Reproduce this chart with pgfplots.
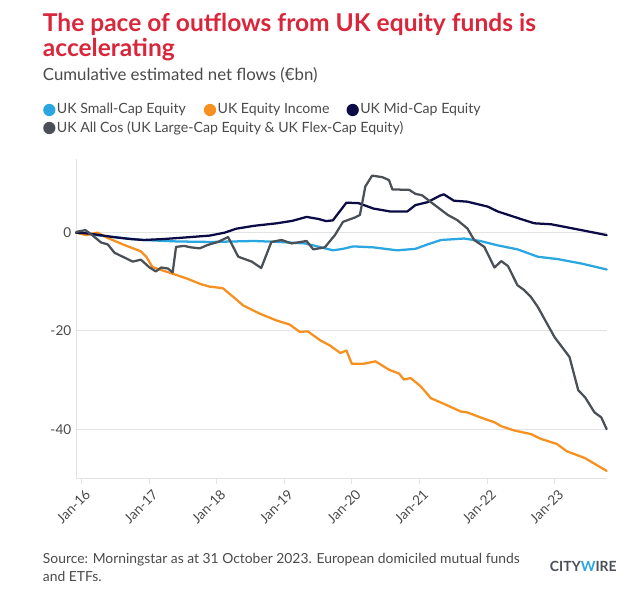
\documentclass[border=0pt]{standalone}
\usepackage{pgfplots}
\pgfplotsset{compat=1.18}
\usepackage{fontspec}
\setmainfont{Lato}
\definecolor{titlered}{HTML}{D9263B}
\definecolor{smallcap}{HTML}{2AA6E0}
\definecolor{income}{HTML}{F7901E}
\definecolor{midcap}{HTML}{0C0B45}
\definecolor{allcos}{HTML}{4B5057}
\definecolor{txtgray}{HTML}{4A4A4A}
\definecolor{gridgray}{HTML}{E3E3E3}
\definecolor{logoblue}{HTML}{2AA6E0}
\begin{document}
\begin{tikzpicture}
\useasboundingbox (0,0) rectangle (472.5pt,442.5pt);
% title
\node[anchor=base west, inner sep=0pt, text=titlered, font=\fontsize{18.4}{20}\selectfont\bfseries] at (32pt,419pt) {The pace of outflows from UK equity funds is};
\node[anchor=base west, inner sep=0pt, text=titlered, font=\fontsize{18.4}{20}\selectfont\bfseries] at (32pt,400pt) {accelerating};
\node[anchor=base west, inner sep=0pt, text=txtgray, font=\fontsize{12.6}{14}\selectfont] at (32pt,382pt) {Cumulative estimated net flows (€bn)};
% legend
\begin{scope}[font=\fontsize{10.6}{12}\selectfont, text=txtgray]
\fill[smallcap] (37pt,360pt) circle (4.6pt);
\node[anchor=west, inner sep=0pt] at (42.5pt,360pt) {UK Small-Cap Equity};
\fill[income] (157.5pt,360pt) circle (4.6pt);
\node[anchor=west, inner sep=0pt] at (163pt,360pt) {UK Equity Income};
\fill[midcap] (264.5pt,360pt) circle (4.6pt);
\node[anchor=west, inner sep=0pt] at (270pt,360pt) {UK Mid-Cap Equity};
\fill[allcos] (37pt,346.5pt) circle (4.6pt);
\node[anchor=west, inner sep=0pt] at (42.5pt,346.5pt) {UK All Cos (UK Large-Cap Equity \& UK Flex-Cap Equity)};
\end{scope}
% footer
\node[anchor=base west, inner sep=0pt, text=txtgray, font=\fontsize{10.4}{12}\selectfont] at (32pt,20pt) {Source: Morningstar as at 31 October 2023. European domiciled mutual funds};
\node[anchor=base west, inner sep=0pt, text=txtgray, font=\fontsize{10.4}{12}\selectfont] at (32pt,6.5pt) {and ETFs.};
\node[anchor=center, inner sep=0pt, text=allcos, font=\fontsize{10.5}{12}\selectfont\bfseries] at (437.5pt,18pt) {CITY\textcolor{logoblue}{W}IRE};
\begin{axis}[
  at={(57pt,83.8pt)}, anchor=south west,
  scale only axis, width=398pt, height=239.5pt,
  xmin=2015.92, xmax=2023.77,
  ymin=-50, ymax=15,
  axis line style={gridgray},
  axis x line*=bottom, axis y line*=left,
  ytick={-40,-20,0}, yticklabels={-40,-20,0},
  ymajorgrids, grid style={gridgray, line width=0.6pt},
  y tick style={draw=none},
  xtick={2016,2017,2018,2019,2020,2021,2022,2023},
  xticklabels={Jan-16,Jan-17,Jan-18,Jan-19,Jan-20,Jan-21,Jan-22,Jan-23},
  x tick style={gridgray, line width=0.6pt},
  major tick length=4pt,
  xtick align=outside,
  x tick label style={rotate=45, anchor=north east, font=\fontsize{10.2}{12}\selectfont, text=txtgray, inner sep=1pt, yshift=-3pt},
  y tick label style={font=\fontsize{10.2}{12}\selectfont, text=txtgray},
  tick label style={/pgf/number format/assume math mode=true},
  every axis plot/.append style={line width=1.7pt, line join=round, line cap=round, no markers},
  clip=false,
]
% UK Small-Cap Equity
\addplot[smallcap] coordinates {
(2015.92,0) (2016.22,-0.5) (2016.52,-1.0) (2016.92,-1.5) (2017.42,-1.8) (2017.92,-1.9)
(2018.56,-1.7) (2018.92,-1.9) (2019.31,-2.2) (2019.52,-2.9) (2019.72,-3.6) (2019.87,-3.3)
(2020.02,-2.8) (2020.32,-3.0) (2020.67,-3.6) (2020.94,-3.3) (2021.12,-2.4) (2021.32,-1.5)
(2021.66,-1.2) (2021.90,-1.7) (2022.16,-2.6) (2022.45,-3.4) (2022.75,-4.9) (2023.05,-5.4)
(2023.40,-6.3) (2023.77,-7.5)
};
% UK Equity Income
\addplot[income] coordinates {
(2015.92,0) (2016.07,-0.5) (2016.24,0.0) (2016.39,-1.1) (2016.65,-2.6) (2016.88,-3.8)
(2016.96,-4.9) (2017.05,-7.0) (2017.18,-7.6) (2017.38,-8.5) (2017.57,-9.4) (2017.77,-10.5)
(2017.90,-11.0) (2018.09,-11.3) (2018.24,-13.0) (2018.39,-14.8) (2018.64,-16.5) (2018.89,-17.9)
(2019.08,-18.7) (2019.23,-20.2) (2019.35,-20.1) (2019.53,-21.9) (2019.68,-23.0) (2019.83,-24.5)
(2019.92,-24.0) (2020.00,-26.7) (2020.17,-26.7) (2020.35,-26.2) (2020.55,-27.9) (2020.70,-28.7)
(2020.77,-29.9) (2020.87,-29.6) (2021.02,-31.3) (2021.17,-33.7) (2021.37,-34.9) (2021.61,-36.4)
(2021.71,-36.6) (2021.96,-37.9) (2022.11,-38.6) (2022.21,-39.4) (2022.41,-40.3) (2022.65,-41.0)
(2022.80,-42.0) (2023.03,-43.0) (2023.18,-44.5) (2023.45,-45.9) (2023.77,-48.5)
};
% UK Mid-Cap Equity
\addplot[midcap] coordinates {
(2015.92,0) (2016.12,-0.2) (2016.42,-0.8) (2016.72,-1.3) (2016.92,-1.5) (2017.22,-1.3)
(2017.52,-1.0) (2017.90,-0.6) (2018.12,0.0) (2018.29,0.8) (2018.56,1.4) (2018.89,1.9)
(2019.12,2.4) (2019.33,3.2) (2019.50,2.8) (2019.62,2.35) (2019.72,2.5) (2019.92,6.1)
(2020.10,6.0) (2020.32,4.9) (2020.57,4.3) (2020.82,4.3) (2020.94,5.6) (2021.12,6.2)
(2021.30,7.5) (2021.36,7.8) (2021.51,6.5) (2021.71,6.3) (2022.01,5.3) (2022.16,4.3)
(2022.55,2.55) (2022.70,1.9) (2022.95,1.7) (2023.40,0.5) (2023.77,-0.5)
};
% UK All Cos
\addplot[allcos] coordinates {
(2015.92,0) (2015.94,0.2) (2016.06,0.5) (2016.16,-0.5) (2016.29,-2.0) (2016.39,-2.4)
(2016.49,-4.1) (2016.58,-4.7) (2016.76,-5.9) (2016.88,-5.5) (2017.00,-7.0) (2017.10,-7.9)
(2017.18,-7.1) (2017.28,-7.3) (2017.35,-8.1) (2017.40,-2.9) (2017.52,-2.7) (2017.62,-3.0)
(2017.75,-3.2) (2017.87,-2.5) (2018.02,-1.9) (2018.17,-0.9) (2018.32,-4.9) (2018.52,-5.9)
(2018.66,-7.2) (2018.81,-1.9) (2018.96,-1.5) (2019.11,-2.2) (2019.33,-1.7) (2019.43,-3.4)
(2019.60,-3.0) (2019.75,-0.5) (2019.87,2.2) (2020.05,3.1) (2020.12,3.6) (2020.20,9.4)
(2020.30,11.6) (2020.45,11.3) (2020.55,10.7) (2020.60,8.8) (2020.85,8.7) (2020.94,7.9)
(2021.04,7.6) (2021.19,6.0) (2021.42,3.6) (2021.56,2.55) (2021.71,0.85) (2021.81,-1.5)
(2021.96,-2.9) (2022.11,-7.1) (2022.21,-5.8) (2022.31,-6.8) (2022.45,-10.7) (2022.55,-11.7)
(2022.65,-13.1) (2022.75,-15.1) (2023.00,-21.3) (2023.22,-25.3) (2023.35,-32.1) (2023.45,-33.5)
(2023.59,-36.6) (2023.69,-37.6) (2023.77,-40.0)
};
\end{axis}
\end{tikzpicture}
\end{document}
